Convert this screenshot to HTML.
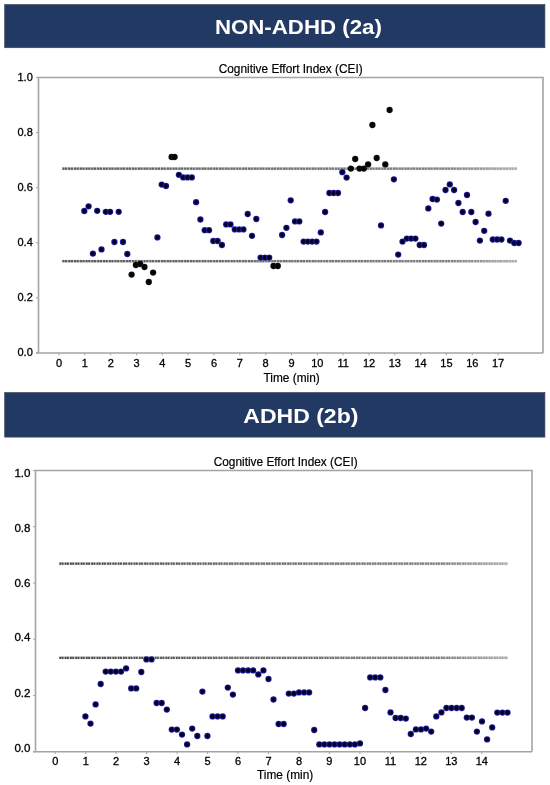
<!DOCTYPE html>
<html lang="en">
<head>
<meta charset="utf-8">
<title>Cognitive Effort Index</title>
<style>
html,body{margin:0;padding:0;background:#fff;}
body{width:550px;height:785px;overflow:hidden;}
svg{display:block;}
text{font-family:"Liberation Sans",sans-serif;}
.tk{font-size:11px;fill:#000;stroke:#000;stroke-width:0.3px;}
.hd{font-size:20.4px;font-weight:bold;fill:#fff;}
.st{font-size:11.85px;fill:#000;stroke:#000;stroke-width:0.2px;}
.xl{font-size:11.85px;fill:#000;stroke:#000;stroke-width:0.2px;}
</style>
</head>
<body>
<svg width="550" height="785" viewBox="0 0 550 785">
<defs>
<radialGradient id="gb"><stop offset="0" stop-color="#000004"/><stop offset="0.45" stop-color="#020220"/><stop offset="0.75" stop-color="#130f7c"/><stop offset="1" stop-color="#2b27a6"/></radialGradient>
<radialGradient id="gk"><stop offset="0" stop-color="#000"/><stop offset="0.8" stop-color="#0a0a0a"/><stop offset="1" stop-color="#222"/></radialGradient>
<linearGradient id="dg" gradientUnits="userSpaceOnUse" x1="60" y1="0" x2="517" y2="0"><stop offset="0" stop-color="#5a5a5a"/><stop offset="0.4" stop-color="#6c6c6c"/><stop offset="0.85" stop-color="#808080"/><stop offset="1" stop-color="#b0b0b0"/></linearGradient>
<linearGradient id="dg2" gradientUnits="userSpaceOnUse" x1="59" y1="0" x2="507" y2="0"><stop offset="0" stop-color="#444"/><stop offset="0.4" stop-color="#646464"/><stop offset="0.85" stop-color="#7a7a7a"/><stop offset="1" stop-color="#aaa"/></linearGradient>
</defs>
<rect x="0" y="0" width="550" height="785" fill="#fff"/>
<!-- headers -->
<rect x="4.7" y="4.6" width="540.2" height="43.1" fill="#223963" stroke="#3d4558" stroke-width="0.7"/>
<text x="214.9" y="34.2" class="hd" id="h1" textLength="167" lengthAdjust="spacingAndGlyphs">NON-ADHD (2a)</text>
<rect x="4.7" y="392.6" width="540.2" height="44.5" fill="#223963" stroke="#3d4558" stroke-width="0.7"/>
<text x="243.3" y="423.2" class="hd" id="h2" textLength="115.1" lengthAdjust="spacingAndGlyphs">ADHD (2b)</text>
<!-- chart 1 -->
<text x="290.7" y="73" text-anchor="middle" class="st" id="s1">Cognitive Effort Index (CEI)</text>
<path d="M38.5 353.0V77.5H543.0V353.0" fill="none" stroke="#a4a4a4" stroke-width="1.6"/>
<path d="M36.0 353.0H543.0" fill="none" stroke="#a4a4a4" stroke-width="1.6"/>
<path d="M36.0 353.0H38.5" stroke="#a8a8a8" stroke-width="1.1"/>
<text x="32.8" y="356.3" text-anchor="end" class="tk">0.0</text>
<path d="M36.0 297.9H38.5" stroke="#a8a8a8" stroke-width="1.1"/>
<text x="32.8" y="301.3" text-anchor="end" class="tk">0.2</text>
<path d="M36.0 242.8H38.5" stroke="#a8a8a8" stroke-width="1.1"/>
<text x="32.8" y="246.3" text-anchor="end" class="tk">0.4</text>
<path d="M36.0 187.7H38.5" stroke="#a8a8a8" stroke-width="1.1"/>
<text x="32.8" y="191.2" text-anchor="end" class="tk">0.6</text>
<path d="M36.0 132.6H38.5" stroke="#a8a8a8" stroke-width="1.1"/>
<text x="32.8" y="136.2" text-anchor="end" class="tk">0.8</text>
<path d="M36.0 77.5H38.5" stroke="#a8a8a8" stroke-width="1.1"/>
<text x="32.8" y="81.1" text-anchor="end" class="tk">1.0</text>
<path d="M59.0 353.0v2.3" stroke="#a8a8a8" stroke-width="1.1"/>
<text x="59.0" y="367.3" text-anchor="middle" class="tk">0</text>
<path d="M84.8 353.0v2.3" stroke="#a8a8a8" stroke-width="1.1"/>
<text x="84.8" y="367.3" text-anchor="middle" class="tk">1</text>
<path d="M110.7 353.0v2.3" stroke="#a8a8a8" stroke-width="1.1"/>
<text x="110.7" y="367.3" text-anchor="middle" class="tk">2</text>
<path d="M136.5 353.0v2.3" stroke="#a8a8a8" stroke-width="1.1"/>
<text x="136.5" y="367.3" text-anchor="middle" class="tk">3</text>
<path d="M162.3 353.0v2.3" stroke="#a8a8a8" stroke-width="1.1"/>
<text x="162.3" y="367.3" text-anchor="middle" class="tk">4</text>
<path d="M188.1 353.0v2.3" stroke="#a8a8a8" stroke-width="1.1"/>
<text x="188.1" y="367.3" text-anchor="middle" class="tk">5</text>
<path d="M214.0 353.0v2.3" stroke="#a8a8a8" stroke-width="1.1"/>
<text x="214.0" y="367.3" text-anchor="middle" class="tk">6</text>
<path d="M239.8 353.0v2.3" stroke="#a8a8a8" stroke-width="1.1"/>
<text x="239.8" y="367.3" text-anchor="middle" class="tk">7</text>
<path d="M265.6 353.0v2.3" stroke="#a8a8a8" stroke-width="1.1"/>
<text x="265.6" y="367.3" text-anchor="middle" class="tk">8</text>
<path d="M291.5 353.0v2.3" stroke="#a8a8a8" stroke-width="1.1"/>
<text x="291.5" y="367.3" text-anchor="middle" class="tk">9</text>
<path d="M317.3 353.0v2.3" stroke="#a8a8a8" stroke-width="1.1"/>
<text x="317.3" y="367.3" text-anchor="middle" class="tk">10</text>
<path d="M343.1 353.0v2.3" stroke="#a8a8a8" stroke-width="1.1"/>
<text x="343.1" y="367.3" text-anchor="middle" class="tk">11</text>
<path d="M369.0 353.0v2.3" stroke="#a8a8a8" stroke-width="1.1"/>
<text x="369.0" y="367.3" text-anchor="middle" class="tk">12</text>
<path d="M394.8 353.0v2.3" stroke="#a8a8a8" stroke-width="1.1"/>
<text x="394.8" y="367.3" text-anchor="middle" class="tk">13</text>
<path d="M420.6 353.0v2.3" stroke="#a8a8a8" stroke-width="1.1"/>
<text x="420.6" y="367.3" text-anchor="middle" class="tk">14</text>
<path d="M446.4 353.0v2.3" stroke="#a8a8a8" stroke-width="1.1"/>
<text x="446.4" y="367.3" text-anchor="middle" class="tk">15</text>
<path d="M472.3 353.0v2.3" stroke="#a8a8a8" stroke-width="1.1"/>
<text x="472.3" y="367.3" text-anchor="middle" class="tk">16</text>
<path d="M498.1 353.0v2.3" stroke="#a8a8a8" stroke-width="1.1"/>
<text x="498.1" y="367.3" text-anchor="middle" class="tk">17</text>
<path d="M62.3 168.7H517M62.3 261.2H517" stroke="#f0f0f0" stroke-width="3.6" fill="none"/>
<path d="M62.3 168.7H517M62.3 261.2H517" stroke="#d0d0d0" stroke-width="2.4" fill="none"/>
<path d="M62.3 168.7H517M62.3 261.2H517" stroke="url(#dg)" stroke-width="2.3" stroke-dasharray="2.2 0.5 2.2 0.9" fill="none"/>
<text x="291.6" y="381.9" text-anchor="middle" class="xl" id="x1">Time (min)</text>
<!-- chart 2 -->
<text x="285.7" y="466" text-anchor="middle" class="st" id="s2">Cognitive Effort Index (CEI)</text>
<path d="M35.5 751.7V470.5H532.0V751.7" fill="none" stroke="#a4a4a4" stroke-width="1.6"/>
<path d="M33.0 751.7H532.0" fill="none" stroke="#a4a4a4" stroke-width="1.6"/>
<path d="M33.0 751.7H35.5" stroke="#a8a8a8" stroke-width="1.1"/>
<text x="30.5" y="751.8" text-anchor="end" class="tk" style="font-size:11.6px">0.0</text>
<path d="M33.0 695.5H35.5" stroke="#a8a8a8" stroke-width="1.1"/>
<text x="30.5" y="696.8" text-anchor="end" class="tk" style="font-size:11.6px">0.2</text>
<path d="M33.0 639.2H35.5" stroke="#a8a8a8" stroke-width="1.1"/>
<text x="30.5" y="641.3" text-anchor="end" class="tk" style="font-size:11.6px">0.4</text>
<path d="M33.0 583.0H35.5" stroke="#a8a8a8" stroke-width="1.1"/>
<text x="30.5" y="586.9" text-anchor="end" class="tk" style="font-size:11.6px">0.6</text>
<path d="M33.0 526.7H35.5" stroke="#a8a8a8" stroke-width="1.1"/>
<text x="30.5" y="531.8" text-anchor="end" class="tk" style="font-size:11.6px">0.8</text>
<path d="M33.0 470.5H35.5" stroke="#a8a8a8" stroke-width="1.1"/>
<text x="30.5" y="476.8" text-anchor="end" class="tk" style="font-size:11.6px">1.0</text>
<path d="M55.2 751.7v2.3" stroke="#a8a8a8" stroke-width="1.1"/>
<text x="55.2" y="765.2" text-anchor="middle" class="tk">0</text>
<path d="M85.7 751.7v2.3" stroke="#a8a8a8" stroke-width="1.1"/>
<text x="85.7" y="765.2" text-anchor="middle" class="tk">1</text>
<path d="M116.1 751.7v2.3" stroke="#a8a8a8" stroke-width="1.1"/>
<text x="116.1" y="765.2" text-anchor="middle" class="tk">2</text>
<path d="M146.6 751.7v2.3" stroke="#a8a8a8" stroke-width="1.1"/>
<text x="146.6" y="765.2" text-anchor="middle" class="tk">3</text>
<path d="M177.1 751.7v2.3" stroke="#a8a8a8" stroke-width="1.1"/>
<text x="177.1" y="765.2" text-anchor="middle" class="tk">4</text>
<path d="M207.6 751.7v2.3" stroke="#a8a8a8" stroke-width="1.1"/>
<text x="207.6" y="765.2" text-anchor="middle" class="tk">5</text>
<path d="M238.0 751.7v2.3" stroke="#a8a8a8" stroke-width="1.1"/>
<text x="238.0" y="765.2" text-anchor="middle" class="tk">6</text>
<path d="M268.5 751.7v2.3" stroke="#a8a8a8" stroke-width="1.1"/>
<text x="268.5" y="765.2" text-anchor="middle" class="tk">7</text>
<path d="M299.0 751.7v2.3" stroke="#a8a8a8" stroke-width="1.1"/>
<text x="299.0" y="765.2" text-anchor="middle" class="tk">8</text>
<path d="M329.4 751.7v2.3" stroke="#a8a8a8" stroke-width="1.1"/>
<text x="329.4" y="765.2" text-anchor="middle" class="tk">9</text>
<path d="M359.9 751.7v2.3" stroke="#a8a8a8" stroke-width="1.1"/>
<text x="359.9" y="765.2" text-anchor="middle" class="tk">10</text>
<path d="M390.4 751.7v2.3" stroke="#a8a8a8" stroke-width="1.1"/>
<text x="390.4" y="765.2" text-anchor="middle" class="tk">11</text>
<path d="M420.8 751.7v2.3" stroke="#a8a8a8" stroke-width="1.1"/>
<text x="420.8" y="765.2" text-anchor="middle" class="tk">12</text>
<path d="M451.3 751.7v2.3" stroke="#a8a8a8" stroke-width="1.1"/>
<text x="451.3" y="765.2" text-anchor="middle" class="tk">13</text>
<path d="M481.8 751.7v2.3" stroke="#a8a8a8" stroke-width="1.1"/>
<text x="481.8" y="765.2" text-anchor="middle" class="tk">14</text>
<path d="M59.4 563.7H507.5M59.4 657.8H507.5" stroke="#f0f0f0" stroke-width="3.6" fill="none"/>
<path d="M59.4 563.7H507.5M59.4 657.8H507.5" stroke="#d0d0d0" stroke-width="2.4" fill="none"/>
<path d="M59.4 563.7H507.5M59.4 657.8H507.5" stroke="url(#dg2)" stroke-width="2.3" stroke-dasharray="1.8 0.5 1.8 1.2" fill="none"/>
<text x="285.1" y="779.2" text-anchor="middle" class="xl" id="x2">Time (min)</text>
<!-- data -->
<circle cx="84.3" cy="211.0" r="3.15" fill="url(#gb)"/>
<circle cx="88.6" cy="206.3" r="3.15" fill="url(#gb)"/>
<circle cx="92.9" cy="253.6" r="3.15" fill="url(#gb)"/>
<circle cx="97.2" cy="210.8" r="3.15" fill="url(#gb)"/>
<circle cx="101.5" cy="249.4" r="3.15" fill="url(#gb)"/>
<circle cx="105.8" cy="211.8" r="3.15" fill="url(#gb)"/>
<circle cx="110.1" cy="211.8" r="3.15" fill="url(#gb)"/>
<circle cx="114.4" cy="242.0" r="3.15" fill="url(#gb)"/>
<circle cx="118.7" cy="211.8" r="3.15" fill="url(#gb)"/>
<circle cx="123.0" cy="242.0" r="3.15" fill="url(#gb)"/>
<circle cx="127.3" cy="254.0" r="3.15" fill="url(#gb)"/>
<circle cx="131.6" cy="274.6" r="3.15" fill="url(#gk)"/>
<circle cx="135.9" cy="265.0" r="3.15" fill="url(#gk)"/>
<circle cx="140.2" cy="264.0" r="3.15" fill="url(#gk)"/>
<circle cx="144.5" cy="267.0" r="3.15" fill="url(#gk)"/>
<circle cx="148.8" cy="282.0" r="3.15" fill="url(#gk)"/>
<circle cx="153.1" cy="272.6" r="3.15" fill="url(#gk)"/>
<circle cx="157.4" cy="237.4" r="3.15" fill="url(#gb)"/>
<circle cx="161.7" cy="184.6" r="3.15" fill="url(#gb)"/>
<circle cx="166.0" cy="186.0" r="3.15" fill="url(#gb)"/>
<circle cx="171.6" cy="157.0" r="3.15" fill="url(#gk)"/>
<circle cx="174.6" cy="157.0" r="3.15" fill="url(#gk)"/>
<circle cx="178.9" cy="174.8" r="3.15" fill="url(#gb)"/>
<circle cx="183.2" cy="177.4" r="3.15" fill="url(#gb)"/>
<circle cx="187.5" cy="177.4" r="3.15" fill="url(#gb)"/>
<circle cx="191.8" cy="177.4" r="3.15" fill="url(#gb)"/>
<circle cx="196.1" cy="202.2" r="3.15" fill="url(#gb)"/>
<circle cx="200.4" cy="219.5" r="3.15" fill="url(#gb)"/>
<circle cx="204.7" cy="230.2" r="3.15" fill="url(#gb)"/>
<circle cx="209.0" cy="230.2" r="3.15" fill="url(#gb)"/>
<circle cx="213.3" cy="241.0" r="3.15" fill="url(#gb)"/>
<circle cx="217.6" cy="241.0" r="3.15" fill="url(#gb)"/>
<circle cx="221.9" cy="245.0" r="3.15" fill="url(#gb)"/>
<circle cx="226.2" cy="224.4" r="3.15" fill="url(#gb)"/>
<circle cx="230.5" cy="224.4" r="3.15" fill="url(#gb)"/>
<circle cx="234.8" cy="229.4" r="3.15" fill="url(#gb)"/>
<circle cx="239.1" cy="229.4" r="3.15" fill="url(#gb)"/>
<circle cx="243.4" cy="229.4" r="3.15" fill="url(#gb)"/>
<circle cx="247.7" cy="214.0" r="3.15" fill="url(#gb)"/>
<circle cx="252.0" cy="235.8" r="3.15" fill="url(#gb)"/>
<circle cx="256.3" cy="219.0" r="3.15" fill="url(#gb)"/>
<circle cx="260.6" cy="257.6" r="3.15" fill="url(#gb)"/>
<circle cx="264.9" cy="257.6" r="3.15" fill="url(#gb)"/>
<circle cx="269.2" cy="257.6" r="3.15" fill="url(#gb)"/>
<circle cx="273.5" cy="266.0" r="3.15" fill="url(#gk)"/>
<circle cx="277.8" cy="266.0" r="3.15" fill="url(#gk)"/>
<circle cx="282.1" cy="235.0" r="3.15" fill="url(#gb)"/>
<circle cx="286.4" cy="227.8" r="3.15" fill="url(#gb)"/>
<circle cx="290.7" cy="200.3" r="3.15" fill="url(#gb)"/>
<circle cx="295.0" cy="221.4" r="3.15" fill="url(#gb)"/>
<circle cx="299.3" cy="221.4" r="3.15" fill="url(#gb)"/>
<circle cx="303.6" cy="241.6" r="3.15" fill="url(#gb)"/>
<circle cx="307.9" cy="241.6" r="3.15" fill="url(#gb)"/>
<circle cx="312.2" cy="241.6" r="3.15" fill="url(#gb)"/>
<circle cx="316.5" cy="241.6" r="3.15" fill="url(#gb)"/>
<circle cx="320.8" cy="232.4" r="3.15" fill="url(#gb)"/>
<circle cx="325.1" cy="212.0" r="3.15" fill="url(#gb)"/>
<circle cx="329.4" cy="193.0" r="3.15" fill="url(#gb)"/>
<circle cx="333.7" cy="193.0" r="3.15" fill="url(#gb)"/>
<circle cx="338.0" cy="193.0" r="3.15" fill="url(#gb)"/>
<circle cx="342.3" cy="172.2" r="3.15" fill="url(#gb)"/>
<circle cx="346.6" cy="177.6" r="3.15" fill="url(#gb)"/>
<circle cx="350.9" cy="168.6" r="3.15" fill="url(#gk)"/>
<circle cx="355.2" cy="159.0" r="3.15" fill="url(#gk)"/>
<circle cx="359.5" cy="168.6" r="3.15" fill="url(#gk)"/>
<circle cx="363.8" cy="168.6" r="3.15" fill="url(#gk)"/>
<circle cx="368.1" cy="164.4" r="3.15" fill="url(#gk)"/>
<circle cx="372.4" cy="125.0" r="3.15" fill="url(#gk)"/>
<circle cx="376.7" cy="158.0" r="3.15" fill="url(#gk)"/>
<circle cx="381.0" cy="225.4" r="3.15" fill="url(#gb)"/>
<circle cx="385.3" cy="164.4" r="3.15" fill="url(#gk)"/>
<circle cx="389.6" cy="110.0" r="3.15" fill="url(#gk)"/>
<circle cx="393.9" cy="179.3" r="3.15" fill="url(#gb)"/>
<circle cx="398.2" cy="254.6" r="3.15" fill="url(#gb)"/>
<circle cx="402.5" cy="241.6" r="3.15" fill="url(#gb)"/>
<circle cx="406.8" cy="238.6" r="3.15" fill="url(#gb)"/>
<circle cx="411.1" cy="238.6" r="3.15" fill="url(#gb)"/>
<circle cx="415.4" cy="238.6" r="3.15" fill="url(#gb)"/>
<circle cx="419.7" cy="245.0" r="3.15" fill="url(#gb)"/>
<circle cx="424.0" cy="245.0" r="3.15" fill="url(#gb)"/>
<circle cx="428.3" cy="208.4" r="3.15" fill="url(#gb)"/>
<circle cx="432.6" cy="199.0" r="3.15" fill="url(#gb)"/>
<circle cx="436.9" cy="199.6" r="3.15" fill="url(#gb)"/>
<circle cx="441.2" cy="223.6" r="3.15" fill="url(#gb)"/>
<circle cx="445.5" cy="190.0" r="3.15" fill="url(#gb)"/>
<circle cx="449.8" cy="184.4" r="3.15" fill="url(#gb)"/>
<circle cx="454.1" cy="190.0" r="3.15" fill="url(#gb)"/>
<circle cx="458.4" cy="203.0" r="3.15" fill="url(#gb)"/>
<circle cx="462.7" cy="212.0" r="3.15" fill="url(#gb)"/>
<circle cx="467.0" cy="195.0" r="3.15" fill="url(#gb)"/>
<circle cx="471.3" cy="212.0" r="3.15" fill="url(#gb)"/>
<circle cx="475.6" cy="222.0" r="3.15" fill="url(#gb)"/>
<circle cx="479.9" cy="240.6" r="3.15" fill="url(#gb)"/>
<circle cx="484.2" cy="230.8" r="3.15" fill="url(#gb)"/>
<circle cx="488.5" cy="213.7" r="3.15" fill="url(#gb)"/>
<circle cx="492.8" cy="239.5" r="3.15" fill="url(#gb)"/>
<circle cx="497.1" cy="239.5" r="3.15" fill="url(#gb)"/>
<circle cx="501.4" cy="239.5" r="3.15" fill="url(#gb)"/>
<circle cx="505.7" cy="200.8" r="3.15" fill="url(#gb)"/>
<circle cx="510.0" cy="240.6" r="3.15" fill="url(#gb)"/>
<circle cx="514.3" cy="243.0" r="3.15" fill="url(#gb)"/>
<circle cx="518.6" cy="243.0" r="3.15" fill="url(#gb)"/>
<circle cx="85.4" cy="716.4" r="3.15" fill="url(#gb)"/>
<circle cx="90.5" cy="723.6" r="3.15" fill="url(#gb)"/>
<circle cx="95.6" cy="704.4" r="3.15" fill="url(#gb)"/>
<circle cx="100.7" cy="684.0" r="3.15" fill="url(#gb)"/>
<circle cx="105.7" cy="671.6" r="3.15" fill="url(#gb)"/>
<circle cx="110.8" cy="671.6" r="3.15" fill="url(#gb)"/>
<circle cx="115.9" cy="671.6" r="3.15" fill="url(#gb)"/>
<circle cx="121.0" cy="671.6" r="3.15" fill="url(#gb)"/>
<circle cx="126.1" cy="668.4" r="3.15" fill="url(#gb)"/>
<circle cx="131.2" cy="688.4" r="3.15" fill="url(#gb)"/>
<circle cx="136.2" cy="688.4" r="3.15" fill="url(#gb)"/>
<circle cx="141.3" cy="672.0" r="3.15" fill="url(#gb)"/>
<circle cx="146.4" cy="659.4" r="3.15" fill="url(#gb)"/>
<circle cx="151.5" cy="659.4" r="3.15" fill="url(#gb)"/>
<circle cx="156.6" cy="703.0" r="3.15" fill="url(#gb)"/>
<circle cx="161.7" cy="703.0" r="3.15" fill="url(#gb)"/>
<circle cx="166.8" cy="709.6" r="3.15" fill="url(#gb)"/>
<circle cx="171.8" cy="729.6" r="3.15" fill="url(#gb)"/>
<circle cx="176.9" cy="729.6" r="3.15" fill="url(#gb)"/>
<circle cx="182.0" cy="734.6" r="3.15" fill="url(#gb)"/>
<circle cx="187.1" cy="744.4" r="3.15" fill="url(#gb)"/>
<circle cx="192.2" cy="728.6" r="3.15" fill="url(#gb)"/>
<circle cx="197.3" cy="736.0" r="3.15" fill="url(#gb)"/>
<circle cx="202.4" cy="691.6" r="3.15" fill="url(#gb)"/>
<circle cx="207.4" cy="736.0" r="3.15" fill="url(#gb)"/>
<circle cx="212.5" cy="716.4" r="3.15" fill="url(#gb)"/>
<circle cx="217.6" cy="716.4" r="3.15" fill="url(#gb)"/>
<circle cx="222.7" cy="716.4" r="3.15" fill="url(#gb)"/>
<circle cx="227.8" cy="687.6" r="3.15" fill="url(#gb)"/>
<circle cx="232.9" cy="694.6" r="3.15" fill="url(#gb)"/>
<circle cx="238.0" cy="670.4" r="3.15" fill="url(#gb)"/>
<circle cx="243.0" cy="670.4" r="3.15" fill="url(#gb)"/>
<circle cx="248.1" cy="670.4" r="3.15" fill="url(#gb)"/>
<circle cx="253.2" cy="670.4" r="3.15" fill="url(#gb)"/>
<circle cx="258.3" cy="674.4" r="3.15" fill="url(#gb)"/>
<circle cx="263.4" cy="670.4" r="3.15" fill="url(#gb)"/>
<circle cx="268.5" cy="679.0" r="3.15" fill="url(#gb)"/>
<circle cx="273.5" cy="699.5" r="3.15" fill="url(#gb)"/>
<circle cx="278.6" cy="724.0" r="3.15" fill="url(#gb)"/>
<circle cx="283.7" cy="724.0" r="3.15" fill="url(#gb)"/>
<circle cx="288.8" cy="693.6" r="3.15" fill="url(#gb)"/>
<circle cx="293.9" cy="693.6" r="3.15" fill="url(#gb)"/>
<circle cx="299.0" cy="692.4" r="3.15" fill="url(#gb)"/>
<circle cx="304.1" cy="692.4" r="3.15" fill="url(#gb)"/>
<circle cx="309.1" cy="692.4" r="3.15" fill="url(#gb)"/>
<circle cx="314.2" cy="730.0" r="3.15" fill="url(#gb)"/>
<circle cx="319.3" cy="744.4" r="3.15" fill="url(#gb)"/>
<circle cx="324.4" cy="744.4" r="3.15" fill="url(#gb)"/>
<circle cx="329.5" cy="744.4" r="3.15" fill="url(#gb)"/>
<circle cx="334.6" cy="744.4" r="3.15" fill="url(#gb)"/>
<circle cx="339.6" cy="744.4" r="3.15" fill="url(#gb)"/>
<circle cx="344.7" cy="744.4" r="3.15" fill="url(#gb)"/>
<circle cx="349.8" cy="744.4" r="3.15" fill="url(#gb)"/>
<circle cx="354.9" cy="744.4" r="3.15" fill="url(#gb)"/>
<circle cx="360.0" cy="743.4" r="3.15" fill="url(#gb)"/>
<circle cx="365.1" cy="708.0" r="3.15" fill="url(#gb)"/>
<circle cx="370.2" cy="677.4" r="3.15" fill="url(#gb)"/>
<circle cx="375.2" cy="677.4" r="3.15" fill="url(#gb)"/>
<circle cx="380.3" cy="677.4" r="3.15" fill="url(#gb)"/>
<circle cx="385.4" cy="690.0" r="3.15" fill="url(#gb)"/>
<circle cx="390.5" cy="712.4" r="3.15" fill="url(#gb)"/>
<circle cx="395.6" cy="718.0" r="3.15" fill="url(#gb)"/>
<circle cx="400.7" cy="718.0" r="3.15" fill="url(#gb)"/>
<circle cx="405.8" cy="718.6" r="3.15" fill="url(#gb)"/>
<circle cx="410.8" cy="734.0" r="3.15" fill="url(#gb)"/>
<circle cx="415.9" cy="729.4" r="3.15" fill="url(#gb)"/>
<circle cx="421.0" cy="729.4" r="3.15" fill="url(#gb)"/>
<circle cx="426.1" cy="728.6" r="3.15" fill="url(#gb)"/>
<circle cx="431.2" cy="731.6" r="3.15" fill="url(#gb)"/>
<circle cx="436.3" cy="716.4" r="3.15" fill="url(#gb)"/>
<circle cx="441.4" cy="712.4" r="3.15" fill="url(#gb)"/>
<circle cx="446.4" cy="708.0" r="3.15" fill="url(#gb)"/>
<circle cx="451.5" cy="708.0" r="3.15" fill="url(#gb)"/>
<circle cx="456.6" cy="708.0" r="3.15" fill="url(#gb)"/>
<circle cx="461.7" cy="708.0" r="3.15" fill="url(#gb)"/>
<circle cx="466.8" cy="717.6" r="3.15" fill="url(#gb)"/>
<circle cx="471.9" cy="717.6" r="3.15" fill="url(#gb)"/>
<circle cx="476.9" cy="731.6" r="3.15" fill="url(#gb)"/>
<circle cx="482.0" cy="721.4" r="3.15" fill="url(#gb)"/>
<circle cx="487.1" cy="739.4" r="3.15" fill="url(#gb)"/>
<circle cx="492.2" cy="727.4" r="3.15" fill="url(#gb)"/>
<circle cx="497.3" cy="712.6" r="3.15" fill="url(#gb)"/>
<circle cx="502.4" cy="712.6" r="3.15" fill="url(#gb)"/>
<circle cx="507.5" cy="712.6" r="3.15" fill="url(#gb)"/>
</svg>
</body>
</html>
